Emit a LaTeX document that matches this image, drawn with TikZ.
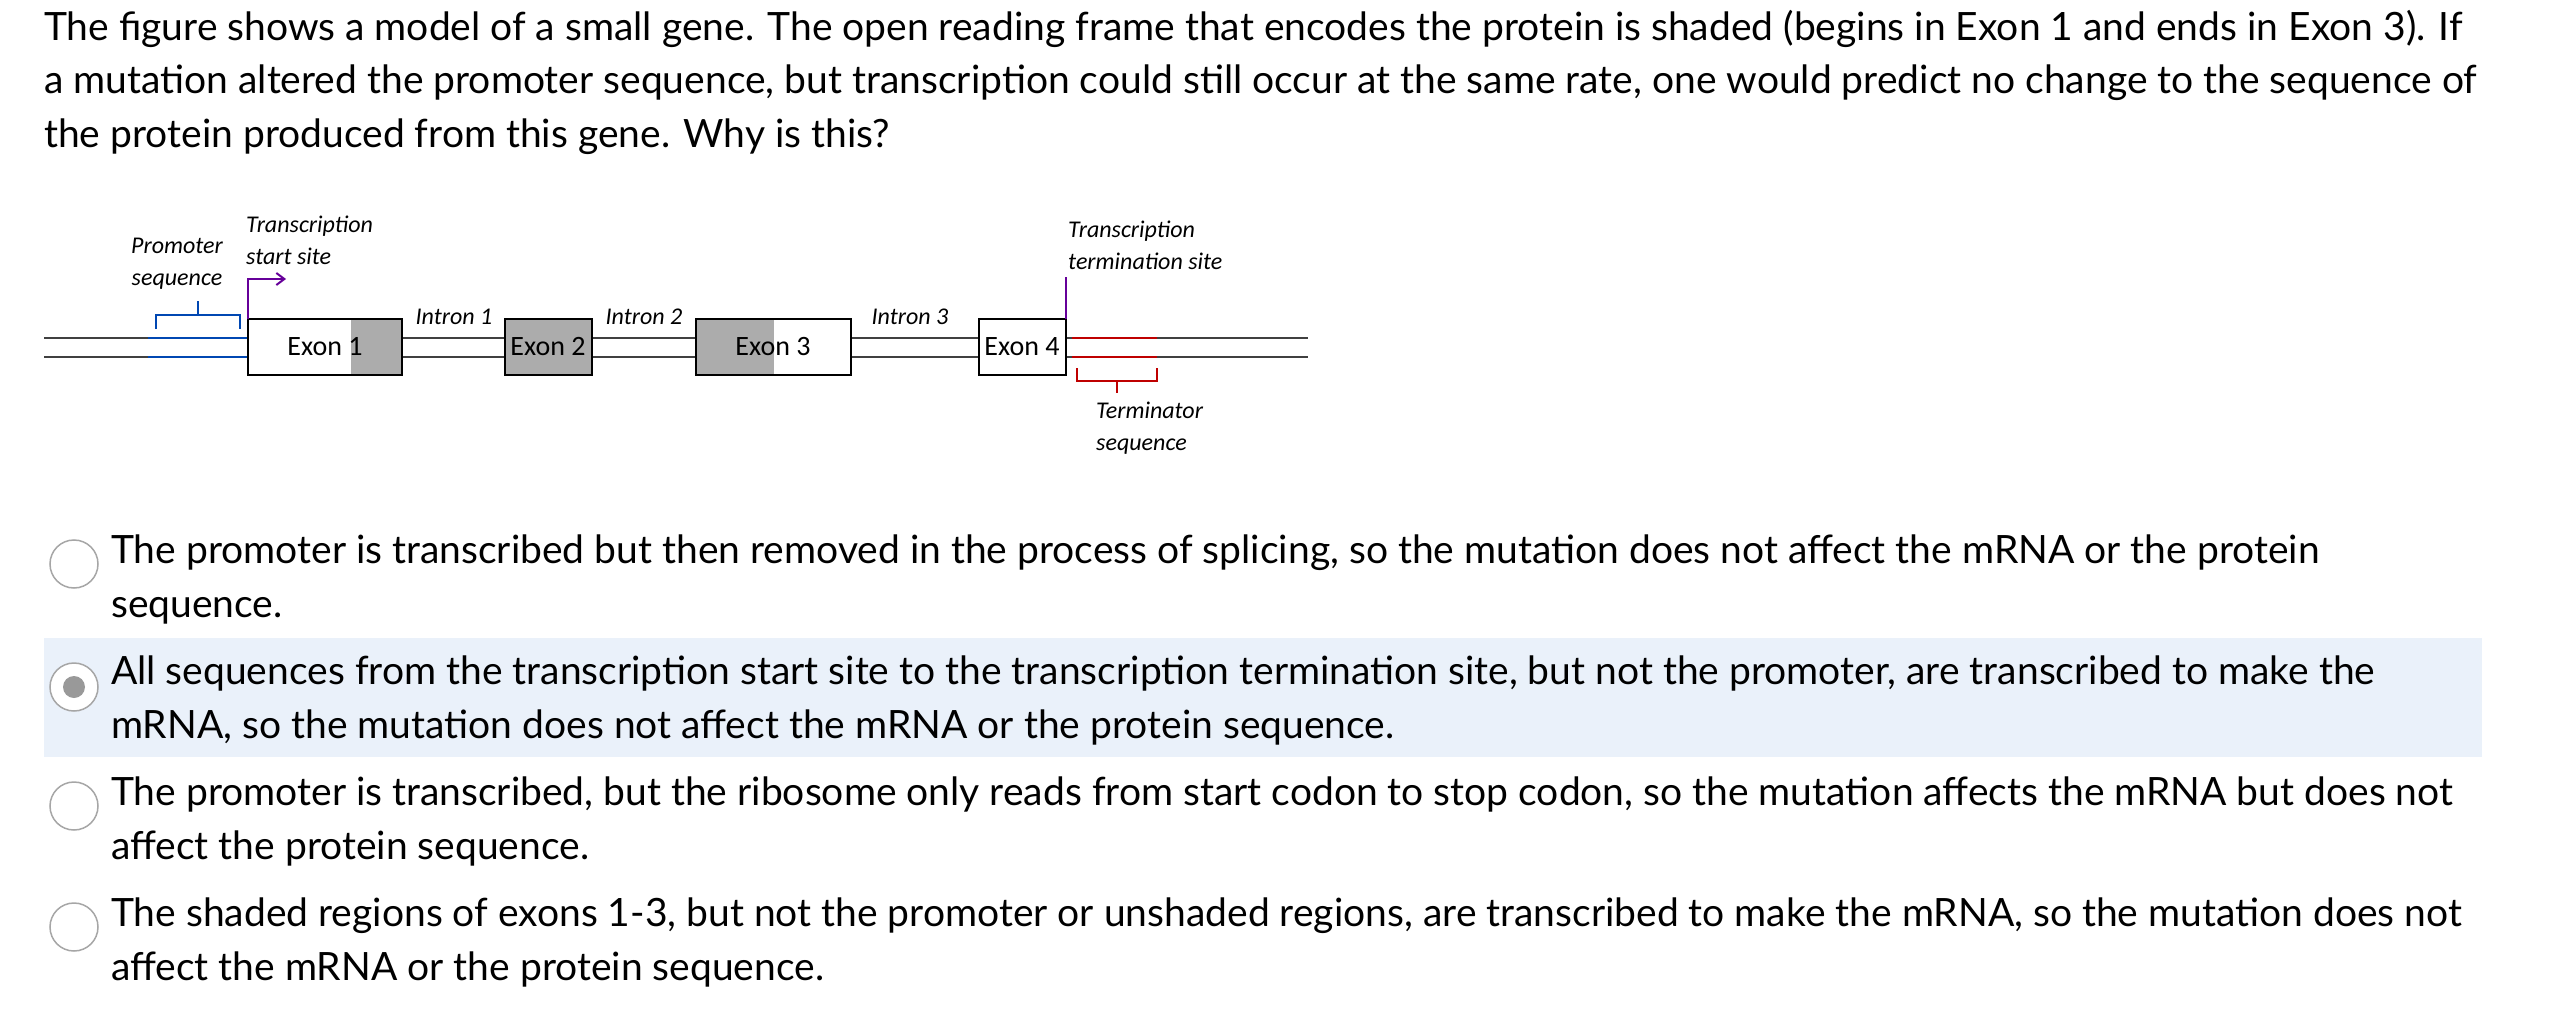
\documentclass[tikz,border=0pt]{standalone}
\usepackage{fontspec}
\usetikzlibrary{arrows.meta}
\setmainfont{Lato}
\newfontfamily\lab{Carlito}
\definecolor{hl}{RGB}{234,241,250}
\begin{document}
\begin{tikzpicture}[x=1pt,y=-1pt,
  q/.style={anchor=base west,inner sep=0pt,font=\fontsize{39}{46}\selectfont},
  lb/.style={inner sep=0pt,font=\lab\itshape\fontsize{24}{32}\selectfont,align=left},
  ex/.style={draw=black,line width=2pt},
  exl/.style={inner sep=0pt,font=\lab\fontsize{28}{30}\selectfont},
  radio/.style={circle,draw=gray!70,line width=1.5pt,minimum size=48pt,inner sep=0pt,fill=white}]
\useasboundingbox (0,0) rectangle (2550,1024);
% question
\node[q] (q1) at (44,41) {The figure shows a model of a small gene. The open reading frame that encodes the protein is shaded (begins in Exon 1 and ends in Exon 3). If};
\node[q] (q2) at (44,94) {a mutation altered the promoter sequence, but transcription could still occur at the same rate, one would predict no change to the sequence of};
\node[q] (q3) at (44,148) {the protein produced from this gene. Why is this?};
% DNA lines
\draw[black!75,line width=1.5pt] (44,338) -- (1308,338) (44,357) -- (1308,357);
\draw[blue!60!cyan!70!black,line width=2pt] (148,338) -- (247,338) (148,357) -- (247,357);
\draw[red!75!black,line width=2pt] (1072,338) -- (1157,338) (1072,357) -- (1157,357);
% exons
\fill[white] (248,319) rectangle (402,375);
\fill[gray!65] (351,319) rectangle (402,375);
\draw[ex] (248,319) rectangle (402,375);
\fill[gray!65] (505,319) rectangle (592,375);
\draw[ex] (505,319) rectangle (592,375);
\fill[white] (696,319) rectangle (851,375);
\fill[gray!65] (696,319) rectangle (774,375);
\draw[ex] (696,319) rectangle (851,375);
\fill[white] (979,319) rectangle (1066,375);
\draw[ex] (979,319) rectangle (1066,375);
\node[exl] (e1) at (325,347) {Exon 1};
\node[exl] (e2) at (548,347) {Exon 2};
\node[exl] (e3) at (773,347) {Exon 3};
\node[exl] (e4) at (1022,347) {Exon 4};
\node[lb] (i1) at (454,317) {Intron 1};
\node[lb] (i2) at (644,317) {Intron 2};
\node[lb] (i3) at (910,317) {Intron 3};
% start site
\coordinate (ts0) at (248,319);
\coordinate (ts1) at (248,279);
\coordinate (ts2) at (286,279);
\draw[violet!80!blue,line width=2pt,-{Straight Barb[length=8pt,width=12pt]}] (ts0) -- (ts1) -- (ts2);
\coordinate (te0) at (1066,319);
\coordinate (te1) at (1066,277);
\draw[violet!80!blue,line width=2pt] (te0) -- (te1);
% braces
\draw[blue!60!cyan!70!black,line width=2pt] (156,329) -- (156,315) -- (240,315) -- (240,329) (198,315) -- (198,301);
\draw[red!75!black,line width=2pt] (1077,368) -- (1077,381) -- (1157,381) -- (1157,368) (1117,381) -- (1117,393);
% labels
\node[lb,align=center] (pr) at (177,264) {Promoter\\sequence};
\node[lb,anchor=west] (tss) at (246,240) {Transcription\\start site};
\node[lb,anchor=west] (tts) at (1068,245) {Transcription\\termination site};
\node[lb,anchor=west] (term) at (1096,428) {Terminator\\sequence};
% options
\fill[hl] (44,638) rectangle (2482,757);
\node[radio] (r1) at (74,564) {};
\node[radio] (r2) at (74,687) {};
\fill[gray!80] (r2) circle (11pt);
\node[radio] (r3) at (74,806) {};
\node[radio] (r4) at (74,927) {};
\node[q] (o1a) at (111,563) {The promoter is transcribed but then removed in the process of splicing, so the mutation does not affect the mRNA or the protein};
\node[q] (o1b) at (111,617) {sequence.};
\node[q] (o2a) at (111,684) {All sequences from the transcription start site to the transcription termination site, but not the promoter, are transcribed to make the};
\node[q] (o2b) at (111,738) {mRNA, so the mutation does not affect the mRNA or the protein sequence.};
\node[q] (o3a) at (111,805) {The promoter is transcribed, but the ribosome only reads from start codon to stop codon, so the mutation affects the mRNA but does not};
\node[q] (o3b) at (111,859) {affect the protein sequence.};
\node[q] (o4a) at (111,926) {The shaded regions of exons 1-3, but not the promoter or unshaded regions, are transcribed to make the mRNA, so the mutation does not};
\node[q] (o4b) at (111,980) {affect the mRNA or the protein sequence.};
\end{tikzpicture}
\end{document}
